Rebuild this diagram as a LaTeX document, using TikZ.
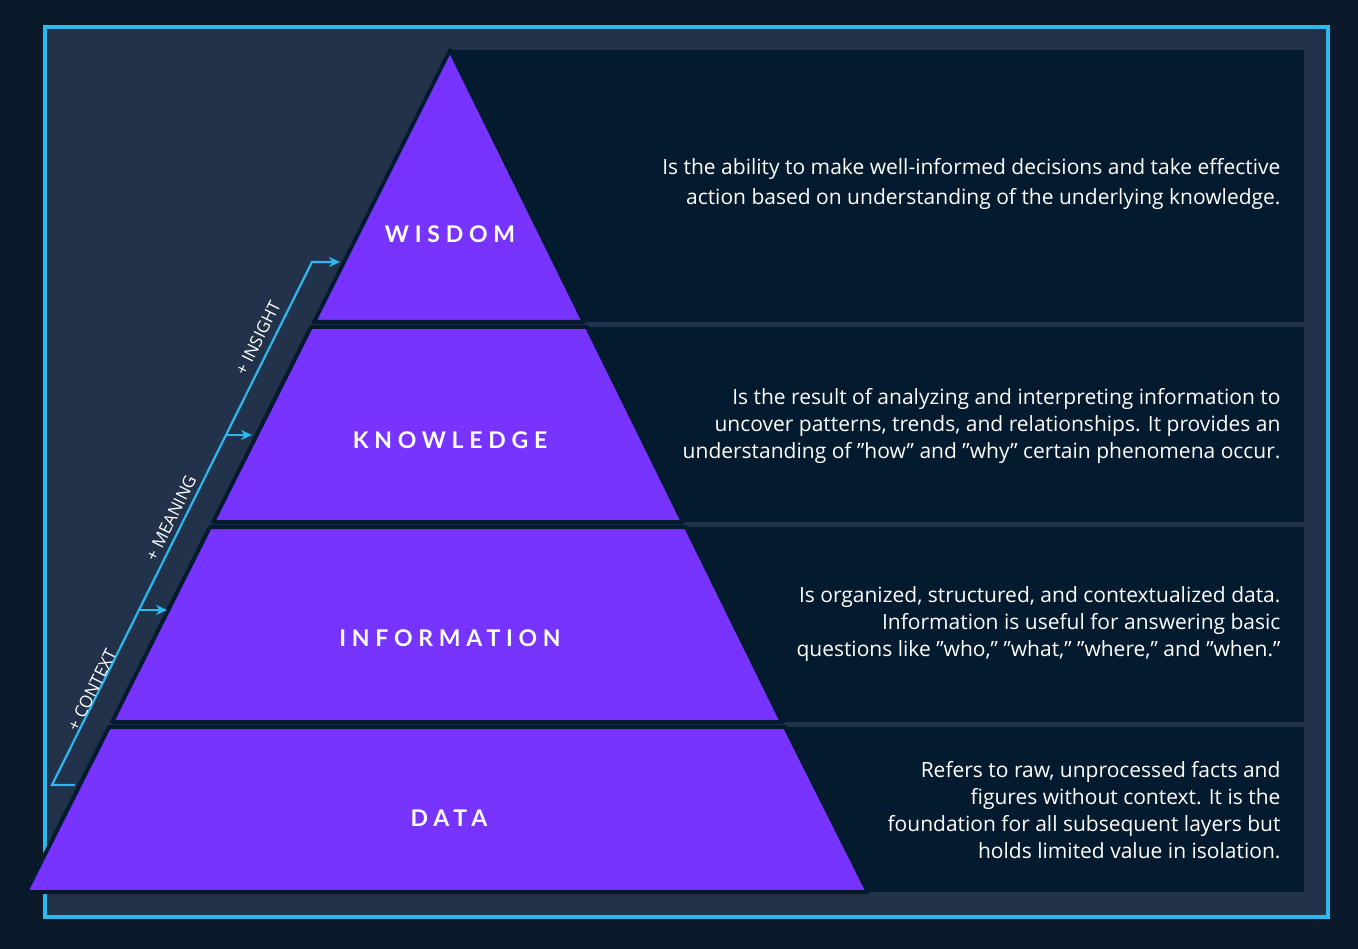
\documentclass[tikz,border=0pt]{standalone}
\usepackage{fontspec}
\setmainfont{Open Sans}
\newfontfamily\titlefont[LetterSpace=25]{Lato Bold}
\newcommand\dq{\symbol{34}}
\usetikzlibrary{arrows.meta}
\definecolor{navy}{HTML}{0B1A2B}
\definecolor{slate}{HTML}{22324A}
\definecolor{panel}{HTML}{041A2E}
\definecolor{violet}{HTML}{7733FF}
\definecolor{cyanline}{HTML}{2DB8EE}
\tikzset{
  layer/.style={fill=violet, draw=panel, line width=4pt, line join=round},
  title/.style={text=white, font=\titlefont\fontsize{23}{23}\selectfont},
  desc/.style={text=white, align=right, anchor=east, font=\fontsize{21}{27}\selectfont},
  gain/.style={text=white, rotate=63.6, font=\fontsize{17}{17}\selectfont},
  flow/.style={draw=cyanline, line width=2.2pt},
  tip/.style={-{Stealth[length=11pt, width=10pt]}}
}
\begin{document}
\begin{tikzpicture}[x=1pt, y=-1pt]
\useasboundingbox (0,0) rectangle (1358,949);
\fill[navy] (0,0) rectangle (1358,949);
% frame and panels
\draw[cyanline, fill=slate, line width=4pt] (45,27) rectangle (1328,917);
\fill[panel] (450,50) rectangle (1304,322);
\fill[panel] (450,327) rectangle (1304,522);
\fill[panel] (450,527) rectangle (1304,722);
\fill[panel] (450,727) rectangle (1304,892);
% pyramid layers
\draw[layer] (450,50) -- (584,322) -- (314,322) -- cycle;
\draw[layer] (311,327) -- (587,327) -- (683,522) -- (213,522) -- cycle;
\draw[layer] (210,527) -- (686,527) -- (782,722) -- (112,722) -- cycle;
\draw[layer] (109,727) -- (785,727) -- (868,892) -- (26,892) -- cycle;
% layer titles
\node[title] (wisdom) at (450,234) {WISDOM};
\node[title] (knowledge) at (450,440) {KNOWLEDGE};
\node[title] (information) at (450,638) {INFORMATION};
\node[title] (data) at (449,818) {DATA};
% descriptions
\node[desc] (dwisdom) at (1284,184) {Is the ability to make well-informed decisions and take effective\\[3pt] action based on understanding of the underlying knowledge.};
\node[desc] (dknowledge) at (1284,426) {Is the result of analyzing and interpreting information to\\ uncover patterns, trends, and relationships. It provides an\\ understanding of \dq how\dq{} and \dq why\dq{} certain phenomena occur.};
\node[desc] (dinformation) at (1284,624) {Is organized, structured, and contextualized data.\\ Information is useful for answering basic\\ questions like \dq who,\dq{} \dq what,\dq{} \dq where,\dq{} and \dq when.\dq};
\node[desc] (ddata) at (1284,810) {Refers to raw, unprocessed facts and\\ figures without context. It is the\\ foundation for all subsequent layers but\\ holds limited value in isolation.};
% flow line with arrows
\coordinate (foot) at (75,785);
\coordinate (corner) at (52,785);
\coordinate (top) at (312,262);
\coordinate (topend) at (340,262);
\coordinate (c1) at (139,610);
\coordinate (c1end) at (167,610);
\coordinate (c2) at (226,435);
\coordinate (c2end) at (252,435);
\draw[flow, tip] (foot) -- (corner) -- (top) -- (topend);
\draw[flow, tip] (c1) -- (c1end);
\draw[flow, tip] (c2) -- (c2end);
\node[gain] (context) at (92,690) {+ CONTEXT};
\node[gain] (meaning) at (171,518) {+ MEANING};
\node[gain] (insight) at (258,338) {+ INSIGHT};
\end{tikzpicture}
\end{document}
